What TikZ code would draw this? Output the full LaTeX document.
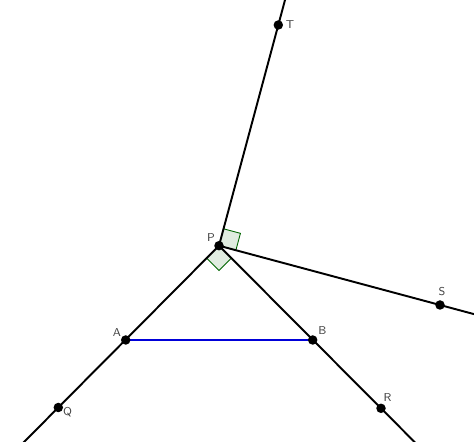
\documentclass[tikz,border=0pt]{standalone}
\usetikzlibrary{calc}
\definecolor{anglegreen}{RGB}{0,100,0}
\definecolor{labelgray}{RGB}{68,68,68}
\tikzset{
  ln/.style={line width=1.1pt, black},
  seg/.style={line width=1.1pt, blue!85!black},
  pt/.style={circle, fill=black, inner sep=0pt, minimum size=0.19cm},
  lbl/.style={font=\fontsize{6.5}{7.5}\selectfont\sffamily, text=labelgray, inner sep=0pt},
  ra/.style={draw=anglegreen, fill=anglegreen!12, line width=0.5pt}
}
\begin{document}
\begin{tikzpicture}[x=0.02cm,y=-0.02cm]
\useasboundingbox (0,0) rectangle (474,442);
\clip (0,0) rectangle (474,442);
\coordinate (P) at (219,245.7);
\coordinate (T) at (278.3,25);
\coordinate (S) at (440,305);
\coordinate (A) at (125.7,340);
\coordinate (B) at (312.7,340);
\coordinate (Q) at (58.3,407.5);
\coordinate (R) at (381,408.3);
% extended ends
\coordinate (Tend) at ($(P)!1.2!(T)$);
\coordinate (Send) at ($(P)!1.2!(S)$);
\coordinate (Qend) at ($(P)!1.3!(Q)$);
\coordinate (Rend) at ($(P)!1.3!(R)$);
% right angle markers
\coordinate (u1) at ($(P)!0.35cm!(T)$);
\coordinate (v1) at ($(P)!0.35cm!(S)$);
\coordinate (u2) at ($(P)!0.35cm!(A)$);
\coordinate (v2) at ($(P)!0.35cm!(B)$);
\draw[ra] (P) -- (u1) -- ($(u1)+(v1)-(P)$) -- (v1) -- cycle;
\draw[ra] (P) -- (u2) -- ($(u2)+(v2)-(P)$) -- (v2) -- cycle;
% lines
\draw[ln] (P) -- (Tend);
\draw[ln] (P) -- (Send);
\draw[ln] (P) -- (Qend);
\draw[ln] (P) -- (Rend);
\draw[seg] (A) -- (B);
% points
\node[pt] (nP) at (P) {};
\node[pt] (nT) at (T) {};
\node[pt] (nS) at (S) {};
\node[pt] (nA) at (A) {};
\node[pt] (nB) at (B) {};
\node[pt] (nQ) at (Q) {};
\node[pt] (nR) at (R) {};
% labels
\node[lbl] (lP) at (211,237.5) {P};
\node[lbl] (lT) at (290,24.5) {T};
\node[lbl] (lS) at (442,291.5) {S};
\node[lbl] (lA) at (117,333) {A};
\node[lbl] (lB) at (322.5,331) {B};
\node[lbl] (lQ) at (67.5,412) {Q};
\node[lbl] (lR) at (387.5,397.5) {R};
\end{tikzpicture}
\end{document}
